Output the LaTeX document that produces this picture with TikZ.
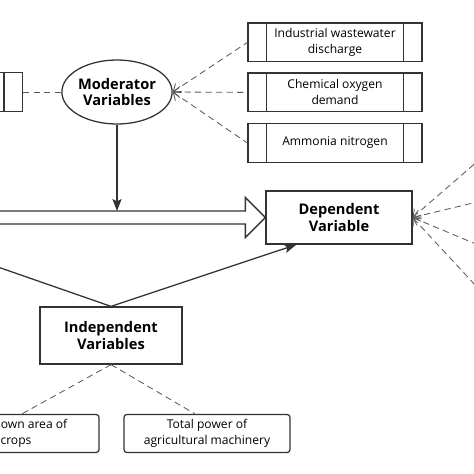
\documentclass[tikz,border=0pt]{standalone}
\usepackage{fontspec}
\setmainfont{Open Sans}
\usetikzlibrary{arrows.meta,positioning,shapes.geometric}

\tikzset{
  box/.style={draw=black!80, line width=0.9pt, align=center, inner sep=2pt},
  bar/.style={box, minimum width=4.35cm, minimum height=0.97cm},
  var/.style={box, font=\fontsize{10.4}{11.6}\selectfont\bfseries},
  leaf/.style={box, rounded corners=2pt, minimum width=4.15cm, minimum height=0.95cm},
  link/.style={draw=black!65, line width=0.6pt, dash pattern=on 4.5pt off 3pt},
  feed/.style={link, arrows={Straight Barb[length=1.6mm,width=2.8mm]-}}
}

\begin{document}
\begin{tikzpicture}[>={Stealth[length=3mm,width=2.3mm,inset=0.6mm]},
  font=\fontsize{8.6}{11.4}\selectfont]

\useasboundingbox (0,0) rectangle (11.85,11.85);

% Moderator and its indicators
\node[var, ellipse, minimum width=2.75cm, minimum height=1.6cm, inner sep=0pt] (mod) at (2.925,9.55) {Moderator\\Variables};
\node[bar, anchor=east] (prev) at (0.575,9.55) {};
\node[bar] (iww) at (8.375,10.79) {Industrial wastewater\\discharge};
\node[bar] (cod) at (8.375,9.54) {Chemical oxygen\\demand};
\node[bar] (amn) at (8.375,8.275) {Ammonia nitrogen};

% inner bars of the indicator boxes
\foreach \n in {prev,iww,cod,amn}
  \draw[line width=0.9pt, black!80]
    ([xshift=0.475cm]\n.north west) -- ([xshift=0.475cm]\n.south west)
    ([xshift=-0.475cm]\n.north east) -- ([xshift=-0.475cm]\n.south east);

% Dependent and independent variables
\node[var, minimum width=3.65cm, minimum height=1.325cm] (dep) at (8.475,6.4125) {Dependent\\Variable};
\node[var, minimum width=3.55cm, minimum height=1.425cm] (ind) at (2.775,3.4625) {Independent\\Variables};

% Independent indicators
\node[leaf] (sown) at (0.4,1.0125) {Total sown area of\\crops};
\node[leaf] (power) at (5.175,1.0125) {Total power of\\agricultural machinery};

% Hollow main arrow
\draw[line width=0.9pt, black!80, fill=white] (dep.west) -- ++(-0.5,0.5) -- ++(0,-0.3375)
  -- ++(-6.6,0) -- ++(0,-0.325) -- ++(6.6,0) -- ++(0,-0.3375) -- cycle;
\path (dep.west) ++(0,0.1625) coordinate (top);

% Moderating effect
\draw[->, line width=0.9pt, black!80] (mod.south) -- (mod.south |- top);

% Independent links
\coordinate (src) at (-0.5,5.33);
\draw[line width=0.9pt, black!80] (src) -- (ind.north);
\draw[->, line width=0.9pt, black!80] (ind.north) -- ([xshift=0.775cm]dep.south west);

% Dashed indicator links
\draw[link] (prev.east) -- (mod.west);
\foreach \n in {iww,cod,amn}
  \draw[feed] (mod.east) -- (\n.west);

\coordinate (r1) at (12.3,8.13);
\coordinate (r2) at (12.3,6.89);
\coordinate (r3) at (12.3,5.58);
\coordinate (r4) at (12.3,4.27);
\foreach \r in {r1,r2,r3,r4}
  \draw[feed] (dep.east) -- (\r);

\draw[link] (ind.south) -- ([xshift=0.15cm]sown.north);
\draw[link] (ind.south) -- ([xshift=-0.3cm]power.north);

\end{tikzpicture}
\end{document}
